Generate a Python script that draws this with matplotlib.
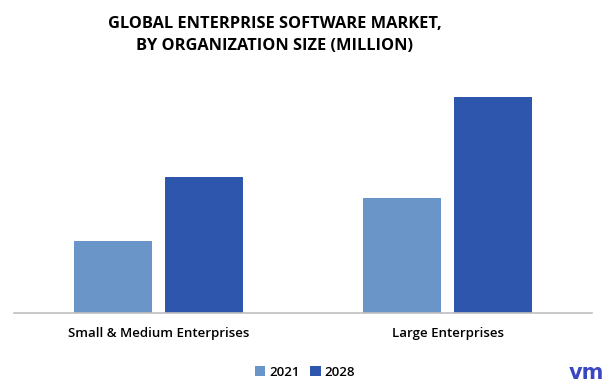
import numpy as np
import matplotlib.pyplot as plt

# data (no value axis in the source, heights)
categories = ["Small & Medium Enterprises", "Large Enterprises"]
years = ["2021", "2028"]
values_2021 = [72, 115]
values_2028 = [136, 216]

colors = ["#6a95c9", "#2e56ad"]

fig = plt.figure(figsize=(6.06, 3.90), dpi=100)
ax = fig.add_axes([14/606, 77/390, 578/606, 233/390])

x = np.arange(len(categories))
w = 0.27
ax.bar(x - 0.158, values_2021, w, color=colors[0], label=years[0])
ax.bar(x + 0.158, values_2028, w, color=colors[1], label=years[1])

ax.set_xlim(-0.5, 1.5)
ax.set_ylim(0, 233)
ax.set_yticks([])
ax.set_xticks(x)
ax.set_xticklabels(categories, fontsize=9.5, fontweight="semibold", family="Open Sans")
ax.tick_params(axis="x", length=0, pad=10)
for s in ["top", "right", "left"]:
    ax.spines[s].set_visible(False)
ax.spines["bottom"].set_color("#bfbfbf")
ax.spines["bottom"].set_linewidth(1.2)

fig.text(275/606, 1 - 35/390, "GLOBAL ENTERPRISE SOFTWARE MARKET,\nBY ORGANIZATION SIZE (MILLION)",
         ha="center", va="center", fontsize=11.8, fontweight="bold", family="Open Sans",
         linespacing=1.5)

leg = fig.legend(loc="center", bbox_to_anchor=(305/606, 1 - 372/390), ncol=2, frameon=False,
                 prop={"family": "Open Sans", "weight": "semibold", "size": 9.5},
                 handlelength=0.8, handleheight=0.8, handletextpad=0.3, columnspacing=0.8)

# logo mark
fig.text(586/606, 1 - 373/390, "vm", ha="center", va="center", fontsize=15,
         fontweight="bold", color="#3b46c2", family="DejaVu Sans")

fig.savefig("out.png", dpi=100)
